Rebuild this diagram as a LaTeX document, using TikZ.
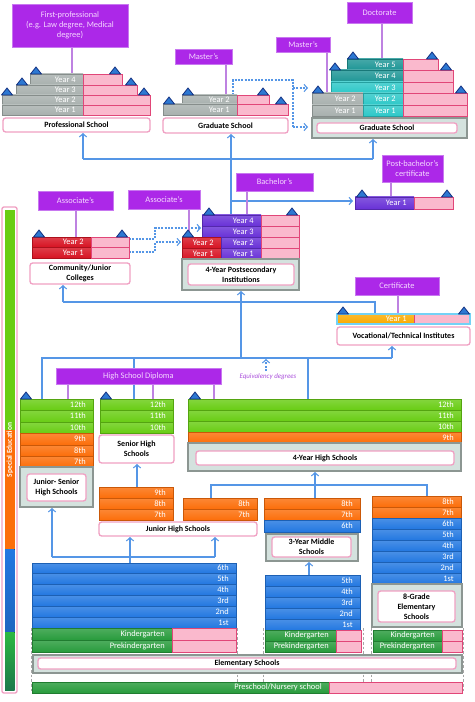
\documentclass[tikz,border=0pt]{standalone}
\usepackage{fontspec}
\setmainfont{Carlito}
\usetikzlibrary{arrows.meta}
\definecolor{degc}{RGB}{172,40,232}
\definecolor{degb}{RGB}{200,120,240}
\definecolor{degt}{RGB}{245,215,255}
\definecolor{degl}{RGB}{190,130,225}
\definecolor{grayc}{RGB}{168,176,174}
\definecolor{pinkc}{RGB}{250,185,205}
\definecolor{pinkb}{RGB}{225,70,120}
\definecolor{trif}{RGB}{45,120,210}
\definecolor{trib}{RGB}{20,50,130}
\definecolor{tealD}{RGB}{30,150,150}
\definecolor{tealL}{RGB}{45,200,200}
\definecolor{redc}{RGB}{215,20,35}
\definecolor{purc}{RGB}{105,50,215}
\definecolor{limec}{RGB}{105,205,20}
\definecolor{orc}{RGB}{252,110,10}
\definecolor{bluec}{RGB}{35,120,225}
\definecolor{kgc}{RGB}{40,155,60}
\definecolor{vocc}{RGB}{250,170,0}
\definecolor{gboxf}{RGB}{212,226,222}
\definecolor{gboxb}{RGB}{140,150,146}
\definecolor{sbb}{RGB}{240,160,195}
\definecolor{conc}{RGB}{85,150,230}
\definecolor{eqc}{RGB}{170,80,220}
\definecolor{segT}{RGB}{45,185,65}
\definecolor{segB}{RGB}{30,120,75}
\tikzset{
 rowlab/.style={inner sep=0pt, text=white, font=\fontsize{6.3}{7}\selectfont},
 tristyle/.style={fill=trif, draw=trib, line width=0.6pt, line join=round},
 degbox/.style={fill=degc, draw=degb, line width=0.5pt},
 deglab/.style={text=degt, font=\fontsize{6.3}{7.6}\selectfont, align=center, inner sep=0pt},
 degline/.style={draw=degl, line width=0.9pt},
 sbstyle/.style={fill=white, draw=sbb, line width=1pt, rounded corners=2pt},
 sblab/.style={font=\bfseries\fontsize{6}{7.5}\selectfont, align=center, inner sep=0pt},
 gboxst/.style={fill=gboxf, draw=gboxb, line width=1pt},
 con/.style={draw=conc, line width=0.8pt},
 conarr/.style={con, -{Straight Barb[length=2.5pt,width=5.5pt]}},
 dcon/.style={con, dash pattern=on 1.5pt off 1pt},
 dconarr/.style={dcon, -{Straight Barb[length=2.5pt,width=5.5pt]}},
 eqlab/.style={text=eqc, font=\itshape\fontsize{5.2}{6}\selectfont, inner sep=0pt},
 eldash/.style={draw=gray!70, dash pattern=on 2pt off 1.5pt, line width=0.5pt},
}
\newcommand\yrow[7]{%
  \shade[top color=#6!82!white, bottom color=#6] (#1,#4) rectangle (#2,#5);
  \draw[draw=#6!80!black, line width=0.3pt] (#1,#4) rectangle (#2,#5);
  \filldraw[fill=pinkc, draw=pinkb, line width=0.5pt] (#2,#4) rectangle (#3,#5);
  \node[rowlab, anchor=east] at ({#2-7},{(#4+#5)/2}) {#7};}
\newcommand\grow[6]{%
  \shade[top color=#5!82!white, bottom color=#5] (#1,#3) rectangle (#2,#4);
  \draw[draw=#5!80!black, line width=0.3pt] (#1,#3) rectangle (#2,#4);
  \node[rowlab, anchor=east] at ({#2-7},{(#3+#4)/2}) {#6};}
\newcommand\tri[2]{\filldraw[tristyle] ({#1-5.5},#2) -- ({#1+5.5},#2) -- (#1,{#2-7}) -- cycle;}
\newcommand\degbox[6]{\filldraw[degbox] (#2,#3) rectangle (#4,#5); \node[deglab] (#1) at ({(#2+#4)/2},{(#3+#5)/2}) {#6};}
\newcommand\schbox[6]{\filldraw[sbstyle] (#2,#3) rectangle (#4,#5); \node[sblab] (#1) at ({(#2+#4)/2},{(#3+#5)/2}) {#6};}
\newcommand\gbox[4]{\filldraw[gboxst] (#1,#2) rectangle (#3,#4);}
\begin{document}
\begin{tikzpicture}[x=0.75pt,y=-0.75pt]
\fill[white] (0,0) rectangle (474,702);
\useasboundingbox (0,0) rectangle (474,702);

% ---------- connectors (behind) ----------
\draw[conarr] (83,159) -- (83,133);
\draw[con] (83,159) -- (373,159);
\draw[conarr] (373,159) -- (373,139);
\draw[conarr] (231,215) -- (231,134);
\draw[conarr] (231,201) -- (353,201);
\draw[dcon] (233,95) -- (233,80) -- (293,80) -- (293,127);
\draw[dconarr] (293,88) -- (308,88);
\draw[dconarr] (293,127) -- (308,127);
\draw[dconarr] (129,239) -- (155,239) -- (155,228) -- (201,228);
\draw[dconarr] (129,252) -- (155,252) -- (155,242) -- (181,242);
\draw[con] (375,314) -- (375,302) -- (63,302);
\draw[conarr] (63,302) -- (63,285);
\draw[conarr] (241,358) -- (241,291);
\draw[con] (42,399) -- (42,358) -- (392,358);
\draw[conarr] (392,358) -- (392,346);
\draw[con] (134,358) -- (134,399);
\draw[con] (308,358) -- (308,399);
\draw[dconarr] (266,371) -- (266,359);
\node[eqlab] (eq) at (268,377) {Equivalency degrees};
\draw[conarr] (137,487) -- (137,464);
\draw[con] (211,498) -- (211,485) -- (427,485) -- (427,496);
\draw[conarr] (315,498) -- (315,472);
\draw[conarr] (309,575) -- (309,562);
\draw[conarr] (130,563) -- (130,537);
\draw[con] (52,557) -- (215,557);
\draw[conarr] (52,557) -- (52,508);
\draw[conarr] (215,557) -- (215,537);

% degree lines
\draw[degline] (72,47) -- (72,74);
\draw[degline] (226,64) -- (226,95);
\draw[degline] (382,23) -- (382,59);
\draw[degline] (327,52) -- (327,93);
\draw[degline] (76,210) -- (76,237);
\draw[degline] (189,209) -- (189,237);
\draw[degline] (247,191) -- (247,215);
\draw[degline] (391,182) -- (391,197);
\draw[degline] (398,295) -- (398,314);
\draw[degline] (68,384) -- (68,399);
\draw[degline] (153,384) -- (153,399);
\draw[degline] (214,384) -- (214,399);

% ---------- Professional school ----------
\degbox{fp}{12}{4}{128}{47}{First-professional\\(e.g. Law degree, Medical\\degree)}
\yrow{30}{83}{122}{74}{85}{grayc}{Year 4}
\yrow{16}{83}{137}{85}{95}{grayc}{Year 3}
\yrow{2}{83}{150}{95}{105}{grayc}{Year 2}
\yrow{2}{83}{150}{105}{115}{grayc}{Year 1}
\tri{36}{74}\tri{115}{74}\tri{22}{85}\tri{131}{85}\tri{7}{95}\tri{144}{95}
\schbox{ps}{3}{118}{150}{132}{Professional School}

% ---------- Graduate school 1 ----------
\degbox{ma1}{175}{49}{232}{64}{Master's}
\yrow{182}{237}{269}{95}{104}{grayc}{Year 2}
\yrow{163}{237}{288}{104}{115}{grayc}{Year 1}
\tri{188}{95}\tri{263}{95}\tri{169}{104}\tri{281}{104}
\schbox{gs1}{163}{118}{288}{133}{Graduate School}

% ---------- Graduate school 2 ----------
\degbox{doc}{347}{2}{412}{23}{Doctorate}
\degbox{ma2}{276}{37}{330}{52}{Master's}
\yrow{347}{403}{438}{59}{70}{tealD}{Year 5}
\yrow{331}{403}{453}{70}{82}{tealD}{Year 4}
\yrow{331}{403}{453}{82}{93}{tealL}{Year 3}
\grow{312}{363}{93}{105}{grayc}{Year 2}
\yrow{363}{403}{467}{93}{105}{tealL}{Year 2}
\grow{312}{363}{105}{116}{grayc}{Year 1}
\yrow{363}{403}{467}{105}{116}{tealL}{Year 1}
\tri{353}{59}\tri{432}{59}\tri{335}{70}\tri{446}{70}\tri{318}{93}\tri{461}{93}
\gbox{312}{118}{467}{138}
\schbox{gs2}{317}{123}{457}{133}{Graduate School}

% ---------- Community colleges ----------
\degbox{as1}{38}{191}{113}{210}{Associate's}
\yrow{32}{91}{129}{237}{247}{redc}{Year 2}
\yrow{32}{91}{129}{247}{258}{redc}{Year 1}
\tri{39}{237}\tri{122}{237}
\schbox{cc}{30}{263}{130}{284}{Community/Junior\\Colleges}

% ---------- 4-year institutions ----------
\degbox{as2}{128}{190}{200}{209}{Associate's}
\degbox{ba}{236}{173}{313}{191}{Bachelor's}
\yrow{202}{261}{299}{215}{226}{purc}{Year 4}
\yrow{202}{261}{299}{226}{237}{purc}{Year 3}
\grow{182}{221}{237}{248}{redc}{Year 2}
\yrow{221}{261}{299}{237}{248}{purc}{Year 2}
\grow{182}{221}{248}{259}{redc}{Year 1}
\yrow{221}{261}{299}{248}{259}{purc}{Year 1}
\tri{209}{215}\tri{292}{215}\tri{188}{237}
\gbox{182}{259}{299}{290}
\schbox{fyi}{188}{264}{294}{285}{4-Year Postsecondary\\Institutions}

% ---------- Post-bachelor ----------
\degbox{pb}{382}{155}{443}{182}{Post-bachelor's\\certificate}
\yrow{355}{414}{453}{197}{209}{purc}{Year 1}
\tri{362}{197}\tri{447}{197}

% ---------- Vocational ----------
\degbox{cert}{355}{277}{439}{295}{Certificate}
\yrow{337}{414}{470}{314}{324}{vocc}{Year 1}
\draw[cyan!55, line width=0.8pt] (337,314) rectangle (470,324);
\tri{343}{314}\tri{464}{314}
\schbox{voc}{337}{327}{470}{345}{Vocational/Technical Institutes}

% ---------- High schools ----------
\degbox{hsd}{56}{368}{221}{384}{High School Diploma}
% junior-senior
\grow{20}{93}{399}{410}{limec}{12th}
\grow{20}{93}{410}{422}{limec}{11th}
\grow{20}{93}{422}{433}{limec}{10th}
\grow{20}{93}{433}{445}{orc}{9th}
\grow{20}{93}{445}{456}{orc}{8th}
\grow{20}{93}{456}{467}{orc}{7th}
\tri{26}{399}
\gbox{20}{467}{93}{507}
\schbox{jshs}{27}{474}{86}{501}{Junior- Senior\\High Schools}
% senior
\grow{100}{173}{399}{410}{limec}{12th}
\grow{100}{173}{410}{422}{limec}{11th}
\grow{100}{173}{422}{433}{limec}{10th}
\tri{106}{399}
\schbox{shs}{99}{435}{174}{463}{Senior High\\Schools}
% junior
\grow{99}{173}{487}{498}{orc}{9th}
\grow{99}{173}{498}{509}{orc}{8th}
\grow{99}{173}{509}{520}{orc}{7th}
\grow{183}{257}{498}{509}{orc}{8th}
\grow{183}{257}{509}{520}{orc}{7th}
\schbox{jhs}{99}{522}{257}{536}{Junior High Schools}
% 4-year HS
\grow{188}{461}{399}{410}{limec}{12th}
\grow{188}{461}{410}{421}{limec}{11th}
\grow{188}{461}{421}{432}{limec}{10th}
\grow{188}{461}{432}{443}{orc}{9th}
\tri{195}{399}
\gbox{188}{443}{461}{471}
\schbox{fyhs}{196}{451}{454}{465}{4-Year High Schools}

% ---------- Middle schools ----------
\grow{264}{360}{498}{509}{orc}{8th}
\grow{264}{360}{509}{520}{orc}{7th}
\grow{264}{360}{520}{532}{bluec}{6th}
\gbox{266}{534}{358}{561}
\schbox{ms}{272}{537}{351}{557}{3-Year Middle\\Schools}

% right 8-grade
\grow{372}{461}{496}{507}{orc}{8th}
\grow{372}{461}{507}{518}{orc}{7th}
\grow{372}{461}{518}{529}{bluec}{6th}
\grow{372}{461}{529}{540}{bluec}{5th}
\grow{372}{461}{540}{551}{bluec}{4th}
\grow{372}{461}{551}{562}{bluec}{3rd}
\grow{372}{461}{562}{573}{bluec}{2nd}
\grow{372}{461}{573}{584}{bluec}{1st}
\gbox{372}{584}{462}{627}
\schbox{eg}{378}{591}{455}{622}{8-Grade\\Elementary\\Schools}

% ---------- Elementary ----------
\foreach \xx in {31,237,263,363,371,463} {\draw[eldash] (\xx,628) -- (\xx,691);}
\grow{32}{236}{563}{573}{bluec}{6th}
\grow{32}{236}{573}{584}{bluec}{5th}
\grow{32}{236}{584}{595}{bluec}{4th}
\grow{32}{236}{595}{606}{bluec}{3rd}
\grow{32}{236}{606}{617}{bluec}{2nd}
\grow{32}{236}{617}{628}{bluec}{1st}
\yrow{32}{172}{236}{628}{640}{kgc}{Kindergarten}
\yrow{32}{172}{236}{640}{652}{kgc}{Prekindergarten}

\grow{265}{360}{575}{586}{bluec}{5th}
\grow{265}{360}{586}{597}{bluec}{4th}
\grow{265}{360}{597}{608}{bluec}{3rd}
\grow{265}{360}{608}{619}{bluec}{2nd}
\grow{265}{360}{619}{630}{bluec}{1st}
\yrow{265}{336}{361}{630}{641}{kgc}{Kindergarten}
\yrow{265}{336}{361}{641}{652}{kgc}{Prekindergarten}

\yrow{373}{442}{462}{630}{641}{kgc}{Kindergarten}
\yrow{373}{442}{462}{641}{652}{kgc}{Prekindergarten}

\gbox{33}{655}{462}{673}
\schbox{es}{38}{658}{456}{669}{Elementary Schools}
\yrow{32}{329}{462}{682}{693}{kgc}{Preschool/Nursery school}

% ---------- Special education bar ----------
\filldraw[fill=white, draw=sbb, line width=1pt, rounded corners=1.5pt] (2,207) rectangle (17,693);
\fill[limec] (5,210) rectangle (14.5,430);
\fill[orc] (5,430) rectangle (14.5,549);
\fill[top color=bluec, bottom color=bluec!85!black] (5,549) rectangle (14.5,632);
\fill[top color=segT, bottom color=segB] (5,632) rectangle (14.5,690);
\node[rotate=90, text=white, font=\bfseries\fontsize{5.6}{6}\selectfont, inner sep=0pt] (se) at (9.8,450) {Special Education};
\end{tikzpicture}
\end{document}
